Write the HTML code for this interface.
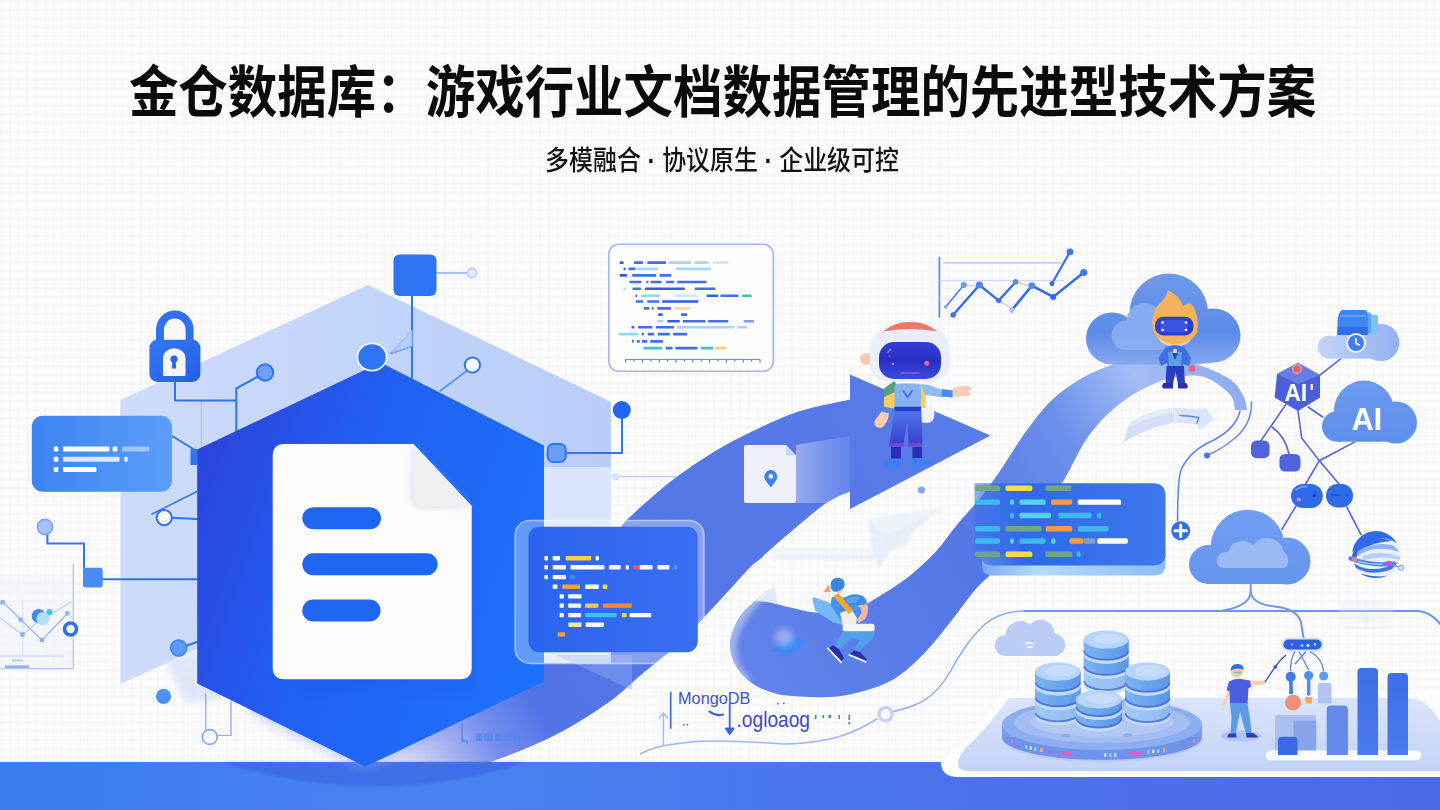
<!DOCTYPE html>
<html lang="zh-CN">
<head>
<meta charset="utf-8">
<title>金仓数据库：游戏行业文档数据管理的先进型技术方案</title>
<style>
html,body{margin:0;padding:0;}
body{width:1440px;height:810px;overflow:hidden;position:relative;background:#fcfcfc;font-family:"Liberation Sans","Noto Sans CJK SC",sans-serif;}
#bg{position:absolute;left:0;top:0;width:1440px;height:810px;
 background-image:linear-gradient(rgba(90,90,100,0.022) 3.2px,transparent 3.2px),linear-gradient(90deg,rgba(90,90,100,0.022) 3.2px,transparent 3.2px);
 background-size:8.7px 8.7px;}
#title{position:absolute;left:2.5px;top:57px;width:1440px;text-align:center;font-size:49.47px;font-weight:700;color:#0b0b0b;line-height:72px;white-space:nowrap;transform:scaleY(1.116);transform-origin:50% 50%;}
#sub{position:absolute;left:0;top:142.6px;width:1444px;text-align:center;font-size:23.95px;font-weight:500;color:#141414;line-height:36px;white-space:nowrap;transform:scaleY(1.13);transform-origin:50% 50%;}
#sub b{font-weight:900;}
#art{position:absolute;left:0;top:0;width:1440px;height:810px;}
#art text{font-family:"Liberation Sans","Noto Sans CJK SC",sans-serif;}
</style>
</head>
<body>
<div id="bg"></div>
<svg id="art" viewBox="0 0 1440 810" width="1440" height="810">
<defs>
<linearGradient id="gBand" x1="0" y1="0" x2="1" y2="0"><stop offset="0" stop-color="#3b7cf0"/><stop offset="0.3" stop-color="#4983f2"/><stop offset="0.6" stop-color="#4a74ec"/><stop offset="1" stop-color="#4c6ae8"/></linearGradient>
<linearGradient id="gHex" x1="197" y1="480" x2="544" y2="600" gradientUnits="userSpaceOnUse"><stop offset="0" stop-color="#2a46de"/><stop offset="0.25" stop-color="#2655e9"/><stop offset="0.45" stop-color="#2062f4"/><stop offset="1" stop-color="#1f70fa"/></linearGradient>
<linearGradient id="gLHex" x1="120" y1="0" x2="612" y2="0" gradientUnits="userSpaceOnUse"><stop offset="0" stop-color="#cfdcfb"/><stop offset="0.5" stop-color="#c3d5fb"/><stop offset="1" stop-color="#b9cdf9"/></linearGradient>
<linearGradient id="gLHexR" x1="0" y1="400" x2="0" y2="670" gradientUnits="userSpaceOnUse"><stop offset="0" stop-color="#bccff9"/><stop offset="0.25" stop-color="#c3d4fa"/><stop offset="0.3" stop-color="#d6e2fc"/><stop offset="1" stop-color="#dfe8fd"/></linearGradient>
<linearGradient id="gArrow1" x1="380" y1="790" x2="990" y2="430" gradientUnits="userSpaceOnUse"><stop offset="0" stop-color="#8a9aee" stop-opacity="0"/><stop offset="0.05" stop-color="#8496ec" stop-opacity="0.3"/><stop offset="0.11" stop-color="#7a8eec" stop-opacity="0.65"/><stop offset="0.17" stop-color="#6781ea" stop-opacity="0.9"/><stop offset="0.25" stop-color="#5374e6"/><stop offset="1" stop-color="#587ce8"/></linearGradient>
<linearGradient id="gArrow2" x1="740" y1="680" x2="1240" y2="380" gradientUnits="userSpaceOnUse"><stop offset="0" stop-color="#6283ea"/><stop offset="0.45" stop-color="#5277e6"/><stop offset="0.7" stop-color="#6d90ea"/><stop offset="0.85" stop-color="#a3bdf4"/><stop offset="1" stop-color="#8fabef"/></linearGradient>
<linearGradient id="gCardL" x1="0" y1="0" x2="1" y2="0"><stop offset="0" stop-color="#3d84f2"/><stop offset="1" stop-color="#5b9df8"/></linearGradient>
<linearGradient id="gLock" x1="0" y1="0" x2="1" y2="1"><stop offset="0" stop-color="#3079f3"/><stop offset="1" stop-color="#2a5ee8"/></linearGradient>
<linearGradient id="gCode" x1="0" y1="0" x2="1" y2="0"><stop offset="0" stop-color="#2a64ee"/><stop offset="1" stop-color="#3a6ff3"/></linearGradient>
<linearGradient id="gCode2" x1="0" y1="0" x2="1" y2="0"><stop offset="0" stop-color="#3a6fe8" stop-opacity="0.55"/><stop offset="0.25" stop-color="#2f69e8"/><stop offset="1" stop-color="#3d78ee"/></linearGradient>
<linearGradient id="gCloud" x1="0" y1="0" x2="0" y2="1"><stop offset="0" stop-color="#6d98ec"/><stop offset="0.7" stop-color="#5b8be8"/><stop offset="1" stop-color="#7ea3ee"/></linearGradient>
<linearGradient id="gCloud3" x1="0" y1="0" x2="0" y2="1"><stop offset="0" stop-color="#6b9bee"/><stop offset="1" stop-color="#5f90ea"/></linearGradient>
<linearGradient id="gCloudS" x1="0" y1="0" x2="1" y2="0"><stop offset="0" stop-color="#bdd0f8"/><stop offset="1" stop-color="#a3bdf3"/></linearGradient>
<linearGradient id="gPlat" x1="0" y1="698" x2="0" y2="772" gradientUnits="userSpaceOnUse"><stop offset="0" stop-color="#dbe4fb"/><stop offset="1" stop-color="#c3d2f7"/></linearGradient>
<linearGradient id="gCyl" x1="0" y1="0" x2="1" y2="0"><stop offset="0" stop-color="#7db5f1"/><stop offset="0.5" stop-color="#6aa5ed"/><stop offset="1" stop-color="#5a96e8"/></linearGradient>
<linearGradient id="gCylL" x1="0" y1="0" x2="1" y2="0"><stop offset="0" stop-color="#a3cbf6"/><stop offset="1" stop-color="#8db9f1"/></linearGradient>
<linearGradient id="gBar" x1="0" y1="0" x2="0" y2="1"><stop offset="0" stop-color="#3f6fe6"/><stop offset="1" stop-color="#4a7aec"/></linearGradient>
<linearGradient id="gLeg" x1="0" y1="0" x2="0" y2="1"><stop offset="0" stop-color="#4f74ea"/><stop offset="1" stop-color="#3a3fd0"/></linearGradient>
<linearGradient id="gVisor" x1="0" y1="0" x2="0" y2="1"><stop offset="0" stop-color="#3040d8"/><stop offset="0.5" stop-color="#2a2fc4"/><stop offset="1" stop-color="#3a4be0"/></linearGradient>
<linearGradient id="gBeam" x1="796" y1="0" x2="850" y2="0" gradientUnits="userSpaceOnUse"><stop offset="0" stop-color="#b3c1f5" stop-opacity="0.7"/><stop offset="1" stop-color="#8fa5ef" stop-opacity="0.25"/></linearGradient>
<linearGradient id="gSlab" x1="982" y1="0" x2="1165" y2="0" gradientUnits="userSpaceOnUse"><stop offset="0" stop-color="#7fa8f2"/><stop offset="0.3" stop-color="#b5dafb"/><stop offset="1" stop-color="#8fbcf7"/></linearGradient>
<linearGradient id="gCloudU" x1="0" y1="273" x2="0" y2="365" gradientUnits="userSpaceOnUse"><stop offset="0" stop-color="#6e99ec"/><stop offset="0.65" stop-color="#5c8ce8"/><stop offset="1" stop-color="#86a9f0"/></linearGradient>
<linearGradient id="gCloud3U" x1="0" y1="510" x2="0" y2="584" gradientUnits="userSpaceOnUse"><stop offset="0" stop-color="#6f9ef2"/><stop offset="1" stop-color="#6795ee"/></linearGradient>
<linearGradient id="gCloudAI" x1="0" y1="380" x2="0" y2="442" gradientUnits="userSpaceOnUse"><stop offset="0" stop-color="#6c9af0"/><stop offset="1" stop-color="#5e8fea"/></linearGradient>
<linearGradient id="gCloudSU" x1="1317" y1="0" x2="1400" y2="0" gradientUnits="userSpaceOnUse"><stop offset="0" stop-color="#c3d4f9"/><stop offset="0.6" stop-color="#a5bff4"/><stop offset="1" stop-color="#93b2f2"/></linearGradient>
<filter id="b1" x="-20%" y="-20%" width="140%" height="140%"><feGaussianBlur stdDeviation="1"/></filter>
<filter id="b3" x="-20%" y="-20%" width="140%" height="140%"><feGaussianBlur stdDeviation="3"/></filter>
<filter id="b6" x="-30%" y="-30%" width="160%" height="160%"><feGaussianBlur stdDeviation="6"/></filter>
<filter id="b05" x="-10%" y="-10%" width="120%" height="120%"><feGaussianBlur stdDeviation="0.5"/></filter>
</defs>
<!-- arrow 1 -->
<g id="arrow1">
<path d="M470.0 650.0 C485.0 637.5 536.5 593.8 560.0 575.0 C583.5 556.2 599.9 546.2 611.0 537.0 C622.1 527.8 620.4 526.2 626.7 520.0 C633.0 513.8 640.5 507.0 648.6 500.0 C656.7 493.0 664.9 485.6 675.5 477.8 C686.1 470.0 699.8 460.5 712.0 453.0 C724.2 445.5 734.8 439.8 749.0 433.0 C763.2 426.2 780.2 417.6 797.0 412.0 C813.8 406.4 841.2 401.6 850.0 399.5 L850 374.5 L990.5 435.5 L850 508.9 L850 491.6 C847.7 492.6 840.8 495.0 836.0 497.5 C831.2 500.0 827.3 502.0 821.0 506.7 C814.7 511.4 805.5 519.5 798.0 525.8 C790.5 532.1 782.3 539.0 776.0 544.5 C769.7 550.0 764.3 555.2 760.0 559.0 C755.7 562.8 755.5 561.9 750.0 567.5 C744.5 573.1 735.0 583.8 727.0 592.5 C719.0 601.2 709.7 611.2 702.0 619.5 C694.3 627.8 689.2 634.4 681.0 642.0 C672.8 649.6 660.8 658.5 653.0 665.0 C645.2 671.5 639.9 675.9 634.0 681.0 C628.1 686.1 624.1 690.4 617.5 695.6 C610.9 700.8 603.6 706.1 594.5 712.0 C585.4 717.9 573.5 725.3 563.0 731.0 C552.5 736.7 542.0 741.4 531.5 746.0 C521.0 750.6 510.2 754.8 500.0 758.5 C489.8 762.2 481.7 764.9 470.0 768.0 C458.3 771.1 442.5 774.7 430.0 777.0 C417.5 779.3 400.8 781.2 395.0 782.0 L380 755 L420 690 Z" fill="url(#gArrow1)"/>
</g>
<!-- bottom band -->
<g id="band">
<rect x="0" y="762" width="1440" height="48" fill="url(#gBand)"/>
<path d="M222 762 Q 300 789 400 786 Q 470 781 525 762 Z" fill="#3256dc" opacity="0.42" filter="url(#b1)"/>
</g>
<!-- light back hexagon -->
<g id="lighthex">
<path d="M120.3 400 L368 285 L611 402 L611 663 L544 663 L544 640 L197 649 L120.3 684 Z" fill="url(#gLHex)"/>
<rect x="544" y="467" width="67" height="196" fill="#dbe5fc"/>
<path d="M166 662 L197 649 L222 700 L185 703 Z" fill="#d5dff8" opacity="0.7" filter="url(#b3)"/>
<line x1="201.5" y1="401" x2="201.5" y2="449" stroke="#a9c3f7" stroke-width="1.2"/>
</g>
<!-- left connectors, lock, card, faint chart -->
<g id="leftstuff" fill="none" stroke="#2f74f0" stroke-width="2" stroke-linecap="round" stroke-linejoin="round">
<!-- lock lines -->
<path d="M175 381 L175 400.5 L236.3 400.5"/>
<path d="M236.3 432 L236.3 388.5 L258 376.5"/>
<circle cx="265" cy="372.5" r="8.2" fill="#6f9ff6"/>
<!-- top square + line -->
<path d="M412 296 L412 378"/>
<path d="M436 273 L468 273" stroke="#8fb0f3" stroke-width="1.6"/>
<circle cx="472" cy="273" r="4.6" fill="#e4ebfb" stroke="#b9cbf5" stroke-width="1.6"/>
<rect x="393.5" y="254.5" width="43" height="41.5" rx="6" fill="#2f74f3" stroke="none"/>
<!-- apex blob -->
<path d="M391 353 L412 346" />
<path d="M391 353 L412 330 L412 346 Z" fill="#b5cbf8" stroke="#8fb0f5" stroke-width="1"/>
<!-- white circle right -->
<path d="M466.5 371 L440 391" stroke="#5a90f3" stroke-width="1.6"/>
<circle cx="472.4" cy="365" r="7.6" fill="#fbfcff"/>
<!-- card connector -->
<path d="M172 436 L194 449.5"/>
<rect x="190.5" y="449" width="7" height="16" fill="#2f74f0" stroke="none"/>
<!-- mid-left circles -->
<path d="M152 514 L197 491.5" stroke-width="1.4"/>
<path d="M172 517.7 L197 519"/>
<circle cx="164.2" cy="517.7" r="7.6" fill="#f4f7ff"/>
<path d="M47.4 535 L47.4 543.6 L84 543.6 L84 568"/>
<circle cx="45" cy="527" r="7.6" fill="#a7c1f6" stroke="#7ba4f2" stroke-width="1.6"/>
<path d="M102 579.2 L197 579.2"/>
<rect x="83" y="567.8" width="19.7" height="19.7" rx="3" fill="#4a8af3" stroke="none"/>
<path d="M187 645.5 L197 642"/>
<circle cx="178.7" cy="648" r="8" fill="#5b9bf6" stroke="#3f84f2" stroke-width="1.6"/>
<circle cx="163.5" cy="696.4" r="7.6" fill="#4b92f4" stroke="none"/>
<path d="M205.7 694 L205.7 729" stroke="#8fb0f2" stroke-width="1.4"/>
<path d="M231 701 L231 735.4 L218 735.4" stroke="#8fb0f2" stroke-width="1.4"/>
<circle cx="209.8" cy="737" r="7.4" fill="#fbfcff" stroke="#7fa6f3" stroke-width="1.6"/>
<!-- right connectors -->
<path d="M566 453 L622 453 L622 418"/>
<circle cx="621.8" cy="410" r="9" fill="#1f66f2" stroke="none"/>
<rect x="547.7" y="444" width="18" height="18" rx="5.5" fill="#6a9ff6"/>
<path d="M616 476.7 L676 476.7" stroke="#b9cdf7" stroke-width="1.3"/>
<circle cx="615.5" cy="476.7" r="3" fill="#dbe5fb" stroke="#c5d5f8" stroke-width="1"/>
</g>
<!-- lock -->
<g id="lock">
<path d="M160 343 L160 330 A14.8 15.6 0 0 1 189.6 330 L189.6 343" fill="none" stroke="#2f72f1" stroke-width="8"/>
<rect x="149.4" y="339.7" width="51" height="42.2" rx="8" fill="url(#gLock)"/>
<path d="M163 374.5 L163 358 A11.2 9.6 0 0 1 185.5 358 L185.5 374.5 Q185.5 376 184 376 L164.5 376 Q163 376 163 374.5 Z" fill="#f4f7fd"/>
<circle cx="174" cy="359" r="3.6" fill="#2a62ea"/>
<path d="M172.4 360 L175.6 360 L176.2 368.5 L171.8 368.5 Z" fill="#2a62ea"/>
</g>
<!-- left card -->
<g id="leftcard">
<rect x="31.8" y="415.8" width="140.2" height="76" rx="11" fill="url(#gCardL)"/>
<g fill="#ffffff">
<rect x="53.8" y="446.5" width="4.6" height="5" rx="1"/><rect x="63" y="446.5" width="46.5" height="5" rx="1"/><rect x="112.7" y="446.5" width="4.6" height="5" rx="1"/><rect x="122" y="446.5" width="27.4" height="5" rx="1" opacity="0.45"/>
<rect x="53.8" y="456.7" width="4.6" height="5" rx="1"/><rect x="63" y="456.7" width="56.5" height="5" rx="1" opacity="0.8"/><rect x="124.4" y="456.7" width="3.2" height="5" rx="1" opacity="0.9"/>
<rect x="53.8" y="467" width="4.6" height="5" rx="1"/><rect x="63" y="467" width="33.4" height="5" rx="1"/>
</g>
</g>
<!-- faint chart bottom-left -->
<g id="leftchart" fill="none" stroke-linecap="round" stroke-linejoin="round">
<rect x="0" y="575" width="73" height="94" fill="#eef3fc" opacity="0.55" stroke="none"/>
<path d="M73.3 564 L73.3 668.7 L0 668.7" stroke="#b3c9f5" stroke-width="1.3"/>
<path d="M0 656 L64 656" stroke="#c3d4f7" stroke-width="1.2"/>
<path d="M22.8 600 L22.8 656" stroke="#d3dff8" stroke-width="1"/>
<rect x="5" y="665.4" width="24" height="2.6" fill="#8fb2f2" stroke="none"/>
<rect x="12" y="659.5" width="11" height="2" fill="#b3c9f5" stroke="none"/>
<path d="M0 604 L2.8 602 L20.7 619.6 L42 640 L67.4 613.4" stroke="#9db8f0" stroke-width="1.4"/>
<path d="M0 618 L22.5 634.5 L38 622 L71 602" stroke="#bccff6" stroke-width="1.3"/>
<g fill="#8fb0ee" stroke="none"><rect x="0.5" y="600" width="4.4" height="4.4" rx="1"/><rect x="18.5" y="617.4" width="4.4" height="4.4" rx="1"/><rect x="20.3" y="632.3" width="4.4" height="4.4" rx="1"/><rect x="39.8" y="637.8" width="4.4" height="4.4" rx="1"/><rect x="65.2" y="611.2" width="4.4" height="4.4" rx="1"/></g>
<circle cx="38.7" cy="616" r="7" fill="#3f8af2" stroke="none"/>
<circle cx="49.4" cy="612" r="3" fill="#3fc2f2" stroke="none"/>
<circle cx="43" cy="618.6" r="6.6" fill="#b3ddf9" stroke="none"/>
<circle cx="70.5" cy="629" r="6" fill="#fbfcff" stroke="#2f70ea" stroke-width="3.6"/>
</g>
<!-- main hexagon + document -->
<g id="hexagon">
<path d="M250 712 L365.5 770 L480 715 L470 690 L260 690 Z" fill="#8f9ff0" opacity="0.5" filter="url(#b6)"/>
<path d="M197.2 449.5 L380.5 362.5 L544 445.5 L544 681.5 L365.5 766.7 L197.2 683.5 Z" fill="url(#gHex)"/>
<ellipse cx="372" cy="357" rx="14.6" ry="13.6" fill="#2f74f3" stroke="#f4f7ff" stroke-width="1.6"/>
<!-- doc -->
<path d="M470 512 L474 690 L300 690 Z" fill="#1a3fc0" opacity="0.10" filter="url(#b6)"/>
<path d="M284.7 444 L413.3 444 L471.7 506 L471.7 667.3 Q471.7 679.3 459.7 679.3 L284.7 679.3 Q272.7 679.3 272.7 667.3 L272.7 456 Q272.7 444 284.7 444 Z" fill="#fcfcfd"/>
<path d="M413.3 444 L471.7 506 L425 508 Q411 508 411.5 494 Z" fill="#9aa3b8" opacity="0.35" filter="url(#b3)"/>
<path d="M413.3 444 L471.7 506 L423.3 506 Q413.3 506 413.3 496 Z" fill="#eef0f3"/>
<rect x="302.3" y="507.3" width="78.7" height="22" rx="11" fill="#1f66f2"/>
<rect x="302.3" y="553.3" width="135.4" height="22" rx="11" fill="#1f66f2"/>
<rect x="302.3" y="599.5" width="78.2" height="22" rx="11" fill="#1f66f2"/>
</g>
<!-- tiny marks under hexagon right -->
<g id="tinymarks" fill="#4f8af3">
<path d="M462 723 L462 741 L467 741 L467 744" fill="none" stroke="#4f8af3" stroke-width="1.4"/>
<rect x="476" y="733.5" width="6" height="7.5" opacity="0.8"/><rect x="484" y="733.5" width="9" height="7.5" opacity="0.65"/><rect x="495" y="733.5" width="7" height="7.5" opacity="0.75"/><rect x="504" y="733.5" width="8" height="7.5" opacity="0.6"/><rect x="513.5" y="733.5" width="6" height="7.5" opacity="0.7"/>
</g>
<!-- top code panel -->
<g id="toppanel">
<rect x="608.8" y="244.2" width="164.5" height="127" rx="10" fill="#fdfdfe" stroke="#a3b6f1" stroke-width="1.6"/>
<g filter="url(#b05)">
<rect x="619.6" y="261.3" width="4.0" height="2.6" rx="0.6" fill="#2f5fe0"/><rect x="633.9" y="261.3" width="9.1" height="2.6" rx="0.6" fill="#3f6fe8"/><rect x="647.3" y="261.3" width="18.8" height="2.6" rx="0.6" fill="#3f6fe8"/><rect x="668.6" y="261.3" width="22.5" height="2.6" rx="0.6" fill="#a9d4f5"/><rect x="694.3" y="261.3" width="14.2" height="2.6" rx="0.6" fill="#a9d4f5"/><rect x="712.9" y="261.3" width="15.4" height="2.6" rx="0.6" fill="#cfe6f8"/>
<rect x="623.6" y="267.6" width="2.0" height="2.6" rx="0.6" fill="#2f5fe0"/><rect x="628.5" y="267.6" width="6.9" height="2.6" rx="0.6" fill="#3f6fe8"/><rect x="636.4" y="267.6" width="21.7" height="2.6" rx="0.6" fill="#a9d4f5"/><rect x="675.9" y="267.6" width="35.0" height="2.6" rx="0.6" fill="#a9d4f5"/>
<rect x="619.6" y="274.1" width="7.5" height="2.6" rx="0.6" fill="#2f5fe0"/><rect x="632.1" y="274.1" width="24.1" height="2.6" rx="0.6" fill="#3f6fe8"/><rect x="659.5" y="274.1" width="11.9" height="2.6" rx="0.6" fill="#3f6fe8"/>
<rect x="629.5" y="280.7" width="11.9" height="2.6" rx="0.6" fill="#3f6fe8"/><rect x="646.3" y="280.7" width="2.0" height="2.6" rx="0.6" fill="#3f6fe8"/><rect x="650.8" y="280.7" width="10.7" height="2.6" rx="0.6" fill="#3f6fe8"/><rect x="666.1" y="280.7" width="7.9" height="2.6" rx="0.6" fill="#3f6fe8"/><rect x="677.3" y="280.7" width="29.2" height="2.6" rx="0.6" fill="#3f6fe8"/>
<rect x="623.6" y="287.4" width="2.0" height="2.6" rx="0.6" fill="#a9d4f5"/><rect x="632.5" y="287.4" width="8.5" height="2.6" rx="0.6" fill="#3f6fe8"/><rect x="644.9" y="287.4" width="39.9" height="2.6" rx="0.6" fill="#2f5fe0"/><rect x="694.7" y="287.4" width="20.7" height="2.6" rx="0.6" fill="#3f6fe8"/>
<rect x="635.4" y="294.5" width="1.6" height="2.6" rx="0.6" fill="#3f6fe8"/><rect x="641.0" y="294.5" width="18.6" height="2.6" rx="0.6" fill="#8fd8e8"/><rect x="674.9" y="294.5" width="22.7" height="2.6" rx="0.6" fill="#cfe6f8"/><rect x="706.6" y="294.5" width="11.5" height="2.6" rx="0.6" fill="#2f5fe0"/><rect x="720.4" y="294.5" width="18.2" height="2.6" rx="0.6" fill="#3f6fe8"/><rect x="742.1" y="294.5" width="9.5" height="2.6" rx="0.6" fill="#3fc0a0"/>
<rect x="635.8" y="300.2" width="7.5" height="2.6" rx="0.6" fill="#3f6fe8"/><rect x="647.3" y="300.2" width="11.9" height="2.6" rx="0.6" fill="#3f6fe8"/><rect x="662.1" y="300.2" width="36.2" height="2.6" rx="0.6" fill="#2f5fe0"/>
<rect x="643.7" y="307.1" width="5.5" height="2.6" rx="0.6" fill="#3f6fe8"/><rect x="651.6" y="307.1" width="2.0" height="2.6" rx="0.6" fill="#3f6fe8"/><rect x="657.2" y="307.1" width="13.8" height="2.6" rx="0.6" fill="#3f6fe8"/><rect x="674.0" y="307.1" width="16.8" height="2.6" rx="0.6" fill="#f0dca0"/>
<rect x="658.2" y="313.3" width="4.5" height="2.6" rx="0.6" fill="#2f5fe0"/><rect x="680.9" y="313.3" width="6.3" height="2.6" rx="0.6" fill="#3f6fe8"/>
<rect x="657.2" y="320.0" width="6.3" height="2.6" rx="0.6" fill="#a9d4f5"/><rect x="667.4" y="320.0" width="12.4" height="2.6" rx="0.6" fill="#2f5fe0"/><rect x="682.8" y="320.0" width="22.7" height="2.6" rx="0.6" fill="#3f6fe8"/><rect x="708.1" y="320.0" width="20.2" height="2.6" rx="0.6" fill="#3f6fe8"/><rect x="743.7" y="320.0" width="10.3" height="2.6" rx="0.6" fill="#7f9fee"/>
<rect x="631.5" y="325.9" width="3.0" height="2.6" rx="0.6" fill="#3f6fe8"/><rect x="638.0" y="325.9" width="14.4" height="2.6" rx="0.6" fill="#3f6fe8"/><rect x="655.8" y="325.9" width="18.2" height="2.6" rx="0.6" fill="#3f6fe8"/><rect x="676.9" y="325.9" width="57.3" height="2.6" rx="0.6" fill="#a9d4f5"/><rect x="737.2" y="325.9" width="9.9" height="2.6" rx="0.6" fill="#a9d4f5"/>
<rect x="618.6" y="332.8" width="19.8" height="2.6" rx="0.6" fill="#8fdcf0"/><rect x="641.8" y="332.8" width="2.0" height="2.6" rx="0.6" fill="#2f5fe0"/><rect x="647.7" y="332.8" width="6.5" height="2.6" rx="0.6" fill="#3f6fe8"/><rect x="657.6" y="332.8" width="12.4" height="2.6" rx="0.6" fill="#3f6fe8"/><rect x="673.0" y="332.8" width="14.2" height="2.6" rx="0.6" fill="#3f6fe8"/>
<rect x="631.9" y="340.1" width="2.0" height="2.6" rx="0.6" fill="#3f6fe8"/><rect x="636.8" y="340.1" width="3.0" height="2.6" rx="0.6" fill="#3f6fe8"/><rect x="641.8" y="340.1" width="5.5" height="2.6" rx="0.6" fill="#3f6fe8"/><rect x="650.3" y="340.1" width="12.8" height="2.6" rx="0.6" fill="#3f6fe8"/>
<rect x="643.3" y="346.8" width="18.8" height="2.6" rx="0.6" fill="#3fc0c8"/><rect x="665.7" y="346.8" width="6.9" height="2.6" rx="0.6" fill="#3f6fe8"/><rect x="675.3" y="346.8" width="22.3" height="2.6" rx="0.6" fill="#3f6fe8"/><rect x="701.0" y="346.8" width="12.4" height="2.6" rx="0.6" fill="#3fc0c8"/><rect x="714.9" y="346.8" width="11.5" height="2.6" rx="0.6" fill="#f5d070"/>
<path d="M625.6 359.4 L760 359.4" stroke="#5f86ea" stroke-width="1" fill="none"/>
<path d="M625.6 359.4 L625.6 362.6 M634.0 359.4 L634.0 361.4 M642.4 359.4 L642.4 362.6 M650.8 359.4 L650.8 361.4 M659.2 359.4 L659.2 362.6 M667.6 359.4 L667.6 361.4 M676.0 359.4 L676.0 362.6 M684.4 359.4 L684.4 361.4 M692.8 359.4 L692.8 362.6 M701.2 359.4 L701.2 361.4 M709.6 359.4 L709.6 362.6 M718.0 359.4 L718.0 361.4 M726.4 359.4 L726.4 362.6 M734.8 359.4 L734.8 361.4 M743.2 359.4 L743.2 362.6 M751.6 359.4 L751.6 361.4 M760.0 359.4 L760.0 362.6 " stroke="#4f78e8" stroke-width="1.2" fill="none"/>
</g>
</g>
<!-- doc icon on arrow + beam -->
<g id="docarrow">
<path d="M796 445 L850 436 L850 491.6 L836 497.5 L826 503 L796 503 Z" fill="url(#gBeam)"/>
<path d="M746 445 L786 445 L796 455.5 L796 501 Q796 503 794 503 L746 503 Q744 503 744 501 L744 447 Q744 445 746 445 Z" fill="#eef1fc"/>
<path d="M786 445 L796 455.5 L788 455.5 Q786 455.5 786 453.5 Z" fill="#cfd8f3"/>
<path d="M770.8 487.5 C 766 481.5, 764.3 479.5, 764.3 476.6 A6.5 6.5 0 0 1 777.3 476.6 C 777.3 479.5, 775.6 481.5, 770.8 487.5 Z" fill="#3f7ff1"/>
<circle cx="770.8" cy="476.4" r="2.3" fill="#eef1fc"/>
<circle cx="921.5" cy="490" r="3.6" fill="#8aa6ef"/>
</g>
<!-- arrow 2 -->
<clipPath id="cpA2"><path d="M757.0 599.0 C760.1 599.8 769.5 602.2 775.5 603.7 C781.5 605.2 786.2 606.5 792.8 608.0 C799.4 609.5 806.3 611.9 815.0 612.5 C823.7 613.1 836.5 612.9 845.0 611.5 C853.5 610.1 859.8 606.8 866.0 604.0 C872.2 601.2 876.8 597.8 882.0 594.6 C887.2 591.4 891.9 588.6 897.0 585.0 C902.1 581.4 906.3 578.7 912.8 573.2 C919.2 567.7 928.1 560.2 935.7 551.8 C943.3 543.4 951.2 531.7 958.6 522.8 C966.0 513.9 973.1 506.9 980.0 498.3 C986.9 489.7 992.2 482.4 1000.0 471.0 C1007.8 459.6 1017.8 442.4 1027.0 430.0 C1036.2 417.6 1044.3 406.4 1055.5 396.7 C1066.7 387.0 1081.1 377.9 1094.0 372.0 C1106.9 366.1 1117.2 362.5 1133.0 361.0 C1148.8 359.5 1173.2 360.2 1189.0 363.0 C1204.8 365.8 1219.0 372.7 1228.0 378.0 C1237.0 383.3 1239.8 389.7 1243.0 395.0 C1246.2 400.3 1246.3 407.5 1247.0 410.0 L1235 410 C1234.3 407.7 1234.7 400.8 1231.0 396.0 C1227.3 391.2 1219.2 384.4 1213.0 381.0 C1206.8 377.6 1202.2 375.5 1193.5 375.5 C1184.8 375.5 1172.9 376.6 1161.0 381.0 C1149.1 385.4 1134.0 392.9 1122.0 402.0 C1110.0 411.1 1098.7 422.5 1089.0 435.5 C1079.3 448.5 1072.2 466.8 1064.0 480.0 C1055.8 493.2 1048.2 504.0 1040.0 515.0 C1031.8 526.0 1022.9 536.4 1015.0 546.0 C1007.1 555.6 999.2 565.2 992.5 572.5 C985.8 579.8 982.1 581.7 975.0 590.0 C967.9 598.3 958.3 612.1 950.0 622.5 C941.7 632.9 933.3 643.8 925.0 652.5 C916.7 661.2 908.3 669.2 900.0 675.0 C891.7 680.8 885.4 683.9 875.0 687.5 C864.6 691.1 850.0 695.0 837.5 696.5 C825.0 698.0 810.3 697.0 800.0 696.5 C789.7 696.0 783.3 695.7 775.5 693.6 C767.7 691.5 759.3 688.2 753.0 684.0 C746.7 679.8 741.2 674.1 737.5 668.6 C733.8 663.1 731.6 656.8 730.6 651.3 C729.6 645.8 729.7 641.8 731.4 635.7 C733.1 629.7 736.7 621.1 741.0 615.0 C745.3 608.9 754.3 601.7 757.0 599.0 Z"/></clipPath>
<g id="arrow2">
<path d="M757.0 599.0 C760.1 599.8 769.5 602.2 775.5 603.7 C781.5 605.2 786.2 606.5 792.8 608.0 C799.4 609.5 806.3 611.9 815.0 612.5 C823.7 613.1 836.5 612.9 845.0 611.5 C853.5 610.1 859.8 606.8 866.0 604.0 C872.2 601.2 876.8 597.8 882.0 594.6 C887.2 591.4 891.9 588.6 897.0 585.0 C902.1 581.4 906.3 578.7 912.8 573.2 C919.2 567.7 928.1 560.2 935.7 551.8 C943.3 543.4 951.2 531.7 958.6 522.8 C966.0 513.9 973.1 506.9 980.0 498.3 C986.9 489.7 992.2 482.4 1000.0 471.0 C1007.8 459.6 1017.8 442.4 1027.0 430.0 C1036.2 417.6 1044.3 406.4 1055.5 396.7 C1066.7 387.0 1081.1 377.9 1094.0 372.0 C1106.9 366.1 1117.2 362.5 1133.0 361.0 C1148.8 359.5 1173.2 360.2 1189.0 363.0 C1204.8 365.8 1219.0 372.7 1228.0 378.0 C1237.0 383.3 1239.8 389.7 1243.0 395.0 C1246.2 400.3 1246.3 407.5 1247.0 410.0 L1235 410 C1234.3 407.7 1234.7 400.8 1231.0 396.0 C1227.3 391.2 1219.2 384.4 1213.0 381.0 C1206.8 377.6 1202.2 375.5 1193.5 375.5 C1184.8 375.5 1172.9 376.6 1161.0 381.0 C1149.1 385.4 1134.0 392.9 1122.0 402.0 C1110.0 411.1 1098.7 422.5 1089.0 435.5 C1079.3 448.5 1072.2 466.8 1064.0 480.0 C1055.8 493.2 1048.2 504.0 1040.0 515.0 C1031.8 526.0 1022.9 536.4 1015.0 546.0 C1007.1 555.6 999.2 565.2 992.5 572.5 C985.8 579.8 982.1 581.7 975.0 590.0 C967.9 598.3 958.3 612.1 950.0 622.5 C941.7 632.9 933.3 643.8 925.0 652.5 C916.7 661.2 908.3 669.2 900.0 675.0 C891.7 680.8 885.4 683.9 875.0 687.5 C864.6 691.1 850.0 695.0 837.5 696.5 C825.0 698.0 810.3 697.0 800.0 696.5 C789.7 696.0 783.3 695.7 775.5 693.6 C767.7 691.5 759.3 688.2 753.0 684.0 C746.7 679.8 741.2 674.1 737.5 668.6 C733.8 663.1 731.6 656.8 730.6 651.3 C729.6 645.8 729.7 641.8 731.4 635.7 C733.1 629.7 736.7 621.1 741.0 615.0 C745.3 608.9 754.3 601.7 757.0 599.0 Z" fill="url(#gArrow2)"/>
<g clip-path="url(#cpA2)"><path d="M760 596 Q744 610 734 632 Q729 650 734 664 Q738 674 748 682" fill="none" stroke="#c9d5f8" stroke-width="9" opacity="0.7" filter="url(#b3)"/></g>
</g>
<!-- ghost arrows + sitting person on arrow 2 -->
<g id="ghost" opacity="0.75" filter="url(#b1)">
<path d="M772 548.6 L876 548.6 L876 561 L772 561 Z" fill="#e1edf9" opacity="0.6"/>
<path d="M868.6 519 L944.7 507 L913.6 531 L906.6 545 L889 552 L879 569 L872 546 Z" fill="#d9e8f7" opacity="0.8"/>
<path d="M868.6 519 L944.7 507 L906 526 L884 536 Z" fill="#e7f1fa" opacity="0.95"/>
</g>
<g id="arrow2deco">
<path d="M770.3 650.4 L793.7 634.8 L805.8 641.8 L789.4 656.5 Z" fill="#3f8af2" opacity="0.95"/>
<path d="M754 601.5 Q763 592 775 586 Q775.5 596 778.5 604.5 Q766 600.5 754 601.5 Z" fill="#e1e8fb" opacity="0.95"/>
<circle cx="784" cy="637" r="9" fill="#ffffff" opacity="0.35" filter="url(#b3)"/>
</g>
<g id="sitter">
<!-- ponytail -->
<path d="M823.4 592 L828.5 584.5 L831 592.5 Z" fill="#f5a07a"/>
<!-- white jacket back -->
<path d="M819.6 596 Q826 590.5 833 592.5 L838 600 L836 607 L822 603 Z" fill="#f3f1ee"/>
<!-- body fill -->
<path d="M832 597 L858 598 L860 622 L842 626 L830 606 Z" fill="#4a92ea"/>
<!-- laptop back -->
<path d="M812.2 598.5 Q813 597 815 597.6 L829 602.5 L844 625.5 L833 622.5 L815.2 610.4 Z" fill="#74b8f6"/>
<!-- blue jacket -->
<path d="M844 598 Q852 592.5 860 595 Q866.5 597 867 603 L862 606 L852 604 L846 614 L838 610 Z" fill="#3f8ae6"/>
<path d="M846 599 Q853 595 860 597 L856 603 L848 603 Z" fill="#5aa2ee"/>
<!-- cream lower -->
<path d="M840 613 L851 609 L857 618 L856 625 L843 626 Z" fill="#f1efe9"/>
<!-- orange strap -->
<path d="M833.5 596 L838.5 593 L853 610.5 L848.5 614 Z" fill="#f5a830"/>
<!-- face + hair -->
<path d="M834.5 589 Q838 596 842 591.5 L841 587 Z" fill="#f8c2b0"/>
<path d="M831 588.5 Q828.8 579.5 836.5 577.8 Q844 577.3 844.8 584 Q844.3 589.5 839.5 590.5 Q836.5 592.5 833.5 591.5 Z" fill="#3a86e6"/>
<!-- forearm skin -->
<path d="M860 605 L867.5 604.5 Q869.5 612 865 619 L859 623 L856.5 620.5 L861.5 613 Z" fill="#f8b6a2"/>
<!-- laptop base -->
<rect x="842.6" y="623.8" width="32" height="7.6" rx="2.6" fill="#f7f8fb"/>
<!-- legs -->
<path d="M843 631.5 L875 631.5 L873 638.6 L859.7 650.8 L853.8 649 L859.7 640.5 L852.3 637.5 L840.4 649.4 L834.5 646 Z" fill="#4f9fea"/>
<!-- shoes -->
<path d="M827.8 648.2 L841.2 662.3" stroke="#f3f4fa" stroke-width="1.8" stroke-linecap="round"/>
<path d="M833 645.2 L838.9 649 L844.1 657.9 L841.6 661 L829 648 Z" fill="#2a2fa8"/>
<path d="M849.3 654.9 L865.6 661.8" stroke="#f3f4fa" stroke-width="1.8" stroke-linecap="round"/>
<path d="M853.8 650.4 L859.7 651.9 L867.1 659.3 L865.8 660.6 L850 654 Z" fill="#2a2fa8"/>
</g>
<!-- code panel 2 -->
<g id="codepanel2">
<path d="M982 555 L1165.5 550 L1165.5 564 Q1165.5 575.5 1154 575.5 L993 575.5 Q982 575.5 982 565 Z" fill="url(#gSlab)"/>
<path d="M974.5 483.3 L1153 483.3 Q1165.5 483.3 1165.5 496 L1165.5 553 Q1165.5 565.5 1153 565.5 L993 565.5 Q982 565.5 982 557 L974.5 557 Z" fill="url(#gCode2)"/>
<rect x="975.0" y="485.5" width="25.0" height="5.4" rx="1.6" fill="#72a48c"/><rect x="1005.6" y="485.5" width="26.7" height="5.4" rx="1.6" fill="#f8dc40"/><rect x="1045.6" y="485.5" width="25.6" height="5.4" rx="1.6" fill="#72a48c"/>
<rect x="975.0" y="499.4" width="25.0" height="5.4" rx="1.6" fill="#3fb8f0"/><rect x="1010.0" y="499.4" width="3.9" height="5.4" rx="1.6" fill="#5ad0e8"/><rect x="1019.4" y="499.4" width="26.1" height="5.4" rx="1.6" fill="#5ad0e8"/><rect x="1051.1" y="499.4" width="21.1" height="5.4" rx="1.6" fill="#f59a4a"/><rect x="1077.8" y="499.4" width="43.3" height="5.4" rx="1.6" fill="#ffffff"/>
<rect x="1010.0" y="512.8" width="3.9" height="5.4" rx="1.6" fill="#3fb8f0"/><rect x="1019.4" y="512.8" width="31.7" height="5.4" rx="1.6" fill="#5ad0e8"/><rect x="1058.3" y="512.8" width="33.3" height="5.4" rx="1.6" fill="#3fb8f0"/><rect x="1097.2" y="512.8" width="3.9" height="5.4" rx="1.6" fill="#3fb8f0"/>
<rect x="975.0" y="526.1" width="25.0" height="5.4" rx="1.6" fill="#3fb8f0"/><rect x="1005.6" y="526.1" width="36.1" height="5.4" rx="1.6" fill="#72a48c"/><rect x="1045.6" y="526.1" width="26.7" height="5.4" rx="1.6" fill="#f59a4a"/><rect x="1077.8" y="526.1" width="30.6" height="5.4" rx="1.6" fill="#3fb8f0"/>
<rect x="975.0" y="538.3" width="25.0" height="5.4" rx="1.6" fill="#3fb8f0"/><rect x="1010.0" y="538.3" width="3.9" height="5.4" rx="1.6" fill="#5ad0e8"/><rect x="1019.4" y="538.3" width="26.1" height="5.4" rx="1.6" fill="#3fb8f0"/><rect x="1051.1" y="538.3" width="4.4" height="5.4" rx="1.6" fill="#5ad0e8"/><rect x="1069.4" y="538.3" width="13.9" height="5.4" rx="1.6" fill="#f59a4a"/><rect x="1083.3" y="538.3" width="12.2" height="5.4" rx="1.6" fill="#7f9fd0"/><rect x="1097.2" y="538.3" width="30.6" height="5.4" rx="1.6" fill="#ffffff"/>
<rect x="975.0" y="551.6" width="25.0" height="5.4" rx="1.6" fill="#72a48c"/><rect x="1005.6" y="551.6" width="26.7" height="5.4" rx="1.6" fill="#f8dc40"/><rect x="1045.6" y="551.6" width="26.7" height="5.4" rx="1.6" fill="#72a48c"/><rect x="1076.7" y="551.6" width="3.9" height="5.4" rx="1.6" fill="#3fb8f0"/>
</g>
<!-- code card -->
<g id="codecard">
<path d="M556 655 L632 655 L632 690 Z" fill="#8fa8f0" opacity="0.45"/>
<rect x="515" y="520.4" width="189" height="143" rx="15" fill="#ffffff" fill-opacity="0.30" stroke="#ffffff" stroke-opacity="0.5" stroke-width="1.5"/>
<rect x="528.4" y="526.7" width="169.4" height="125.5" rx="11" fill="url(#gCode)"/>
<rect x="544.4" y="556.0" width="3.6" height="4.4" rx="0.8" fill="#ffffff"/><rect x="552.7" y="556.0" width="7.3" height="4.4" rx="0.8" fill="#ffffff"/><rect x="565.6" y="556.0" width="25.6" height="4.4" rx="0.8" fill="#f5d24a"/><rect x="595.6" y="556.0" width="3.3" height="4.4" rx="0.8" fill="#ffffff"/>
<rect x="544.4" y="565.1" width="3.6" height="4.4" rx="0.8" fill="#ffffff"/><rect x="552.7" y="565.1" width="13.3" height="4.4" rx="0.8" fill="#ffffff"/><rect x="570.4" y="565.1" width="34.0" height="4.4" rx="0.8" fill="#ffffff"/><rect x="608.9" y="565.1" width="11.8" height="4.4" rx="0.8" fill="#ffffff"/><rect x="625.6" y="565.1" width="3.3" height="4.4" rx="0.8" fill="#ffffff"/><rect x="633.3" y="565.1" width="6.2" height="4.4" rx="0.8" fill="#f0506a"/><rect x="639.6" y="565.1" width="12.9" height="4.4" rx="0.8" fill="#ffffff"/><rect x="657.3" y="565.1" width="12.2" height="4.4" rx="0.8" fill="#ffffff"/><rect x="674.0" y="565.1" width="3.3" height="4.4" rx="0.8" fill="#5a9af5"/>
<rect x="544.4" y="574.9" width="3.6" height="4.4" rx="0.8" fill="#ffffff"/><rect x="552.7" y="574.9" width="13.3" height="4.4" rx="0.8" fill="#ffffff"/><rect x="569.6" y="574.9" width="5.3" height="4.4" rx="0.8" fill="#3f8af5"/>
<rect x="552.7" y="584.5" width="4.7" height="4.4" rx="0.8" fill="#ffffff"/><rect x="562.2" y="584.5" width="17.8" height="4.4" rx="0.8" fill="#f5a03a"/><rect x="585.1" y="584.5" width="13.8" height="4.4" rx="0.8" fill="#ffffff"/><rect x="602.7" y="584.5" width="4.7" height="4.4" rx="0.8" fill="#f5d24a"/>
<rect x="559.6" y="594.2" width="4.2" height="4.4" rx="0.8" fill="#ffffff"/><rect x="568.2" y="594.2" width="13.3" height="4.4" rx="0.8" fill="#ffffff"/>
<rect x="559.6" y="603.4" width="4.2" height="4.4" rx="0.8" fill="#ffffff"/><rect x="568.2" y="603.4" width="12.9" height="4.4" rx="0.8" fill="#ffffff"/><rect x="585.1" y="603.4" width="13.3" height="4.4" rx="0.8" fill="#f0c85a"/><rect x="602.9" y="603.4" width="28.9" height="4.4" rx="0.8" fill="#f58a3a"/>
<rect x="559.6" y="612.9" width="4.2" height="4.4" rx="0.8" fill="#ffffff"/><rect x="568.2" y="612.9" width="12.9" height="4.4" rx="0.8" fill="#ffffff"/><rect x="585.1" y="612.9" width="31.6" height="4.4" rx="0.8" fill="#3fc0f5"/><rect x="621.8" y="612.9" width="4.9" height="4.4" rx="0.8" fill="#f5d24a"/><rect x="629.6" y="612.9" width="21.6" height="4.4" rx="0.8" fill="#ffffff"/>
<rect x="568.4" y="622.5" width="13.1" height="4.4" rx="0.8" fill="#f5eaa0"/><rect x="585.6" y="622.5" width="18.2" height="4.4" rx="0.8" fill="#ffffff"/>
<rect x="557.8" y="632.2" width="7.3" height="4.4" rx="0.8" fill="#f5a03a"/>
</g>
<!-- robot on arrow 1 -->
<g id="robot">
<!-- white bag -->
<path d="M921 404 Q934 403 934.5 414 Q934.5 423 926 423 L921 422 Z" fill="#eef1f8"/>
<!-- ear -->
<circle cx="866" cy="359" r="6" fill="#f6cbb2"/>
<!-- helmet -->
<path d="M870 352 Q870 323 910 323 Q950 323 950 352 L950 362 Q950 381 930 381 L890 381 Q870 381 870 362 Z" fill="#e9eef9"/>
<path d="M883 331.5 Q895 321.5 910 322 Q926 321.5 937 331.5 Q924 329 910 329 Q896 329 883 331.5 Z" fill="#f0776a"/>
<rect x="879" y="342" width="62" height="37" rx="15" fill="url(#gVisor)"/>
<circle cx="926.7" cy="363.3" r="2.5" fill="#f0609a"/>
<circle cx="893" cy="364" r="1.3" fill="#b08af0"/>
<path d="M901 373 L919 373" stroke="#8a5ae0" stroke-width="1.6" stroke-linecap="round"/>
<path d="M888 352 l3 -3 M889 356 l1 0" stroke="#7f8af0" stroke-width="1.2" stroke-linecap="round"/>
<!-- right arm -->
<path d="M918 385 Q926 383 934 387 L944 390.5 L943 397.5 L930 395.5 L920 395 Z" fill="#8dbdf3"/>
<path d="M942 389 L953 390.5 L952.5 397.5 L941.5 396.5 Z" fill="#4a8ae8"/>
<path d="M952.5 388.5 Q962 384 971.5 387 Q972.5 389.5 968 391 Q972 393 968.5 396 L953 397 Z" fill="#f8cdb5"/>
<!-- green pack + yellow vest -->
<path d="M883.5 389 L894 381 L898 386 L897 398 L886 399 Z" fill="#5aa080"/>
<path d="M884 397 L895 392 L895 408 L884 411 Z" fill="#f5cf5a"/>
<path d="M915.5 388 L922 387 L926 398 L925.5 408 L915.5 408 Z" fill="#f5cf5a"/>
<!-- torso -->
<path d="M894.4 388 Q894.4 383.5 899 383.5 L916 383.5 Q921 383.5 921 388 L921 408 L894.4 408 Z" fill="#86b4f2"/>
<path d="M903.5 391 L907.5 397.5 L912 391" stroke="#3f6fe0" stroke-width="1.8" fill="none" stroke-linecap="round" stroke-linejoin="round"/>
<!-- waist -->
<path d="M894.4 406.7 L921 406.7 L921 412 Q907.7 419 894.4 412 Z" fill="#2a3fc8"/>
<!-- left arm -->
<path d="M883 406.5 L893 408.5 L891.5 414 L882 412.5 Z" fill="#4a8ae8"/>
<path d="M881.5 411.5 L889 413.5 Q888 424 881 428 Q873 428 874.5 421 Z" fill="#f8cdb5"/>
<!-- legs -->
<path d="M894.4 411 L921.5 411 L922.5 444.5 L908.5 444.5 L907.5 420 L903.5 444.5 L889.5 444.5 Z" fill="url(#gLeg)"/>
<rect x="889" y="443" width="14.5" height="4.2" rx="2" fill="#6a4fd0"/>
<rect x="908" y="443" width="14.5" height="4.2" rx="2" fill="#6a4fd0"/>
<rect x="891" y="447" width="10" height="12.5" fill="#2a2fb8"/>
<rect x="912.5" y="447" width="9.5" height="12.5" fill="#2a2fb8"/>
<path d="M890 458.5 L901.5 458.5 Q902 467.5 895 468 L888 468 Q884 467 886 463 Z" fill="#3f7ff1"/>
<path d="M912 458 L922 458 L932 462 Q934 465.5 929 465.5 L914 466 Q911 465 912 458 Z" fill="#3f7ff1"/>
</g>
<!-- right side -->
<g id="linechart" fill="none" stroke-linecap="round" stroke-linejoin="round">
<path d="M939.4 257.5 L939.4 317" stroke="#5f8aec" stroke-width="1.7"/>
<path d="M943.8 262.8 L1061 262.8" stroke="#a9c0f5" stroke-width="1.3"/>
<path d="M940 280.6 L1064 280.6" stroke="#cfdaf9" stroke-width="1.1"/>
<path d="M940 298.8 L970 298.8" stroke="#e3e9fb" stroke-width="1"/>
<path d="M963.75 285 L979.4 286.5" stroke="#b9c9f5" stroke-width="1.1"/>
<path d="M1015.6 281.9 L1031.9 286.5" stroke="#b9c0f0" stroke-width="1.1"/>
<path d="M998.75 300.6 L1011.9 309" stroke="#b9c0f0" stroke-width="1.1"/>
<path d="M945.6 306.9 L963.75 285" stroke="#4f80ee" stroke-width="1.6"/>
<path d="M953.1 315 L979.4 285 L998.75 300.6 L1015.6 281.9" stroke="#2f6af0" stroke-width="2.3"/>
<path d="M1011.9 310 L1031.9 285.6 L1053.1 296.9 L1083.75 272.5" stroke="#2f6af0" stroke-width="2.5"/>
<path d="M1051.9 283.75 L1070 251.9" stroke="#3a70f0" stroke-width="2.2"/>
<g stroke="none">
<path d="M945.6 304.5 L947.6 306.9 L945.6 309.3 L943.6 306.9 Z" fill="#7fa3f2"/>
<circle cx="963.75" cy="285" r="3" fill="#6f9af1"/>
<circle cx="953.1" cy="315" r="2.7" fill="#3a72f0"/>
<circle cx="979.4" cy="285" r="3.6" fill="#5585ee"/>
<circle cx="998.75" cy="300.6" r="2.6" fill="#3f72ee"/>
<circle cx="1015.6" cy="281.9" r="2.8" fill="#5a88ee"/>
<path d="M1011.9 306 L1015 310 L1011.9 314 L1008.8 310 Z" fill="#a9c3f6"/>
<circle cx="1031.9" cy="285.6" r="3.4" fill="#5a88ee"/>
<circle cx="1053.1" cy="296.9" r="3" fill="#2f6af0"/>
<circle cx="1083.75" cy="272.5" r="3.6" fill="#3f76ef"/>
<circle cx="1051.9" cy="283.75" r="2.4" fill="#3068ee"/>
<circle cx="1070" cy="251.9" r="3.4" fill="#3f76ef"/>
</g>
</g>
<g id="cloud1" fill="url(#gCloudU)">
<circle cx="1168.8" cy="312.8" r="39.2"/>
<circle cx="1112" cy="338.5" r="26"/>
<circle cx="1213.5" cy="335.5" r="27"/>
<circle cx="1140" cy="338" r="24"/>
<path d="M1112 330 L1213.5 330 L1213.5 362.5 Q1190 366 1170 364.5 L1112 364.5 Z"/>
<path d="M1126 350 A14 14 0 0 1 1126.5 320.5 A18 18 0 0 1 1161 314 Q1170 330 1165 350 Z" fill="#8db0f2" opacity="0.85"/>
</g>
<g id="char2">
<path d="M1153 330 Q1150 312 1160 303 Q1166 298 1168 290 Q1180 296 1183 306 Q1190 301 1193 306 Q1199 316 1197.5 332 Q1190 344 1175 344 Q1158 344 1153 330 Z" fill="#f4b25a"/>
<path d="M1158 338 Q1175 350 1192 338 Q1188 346 1175 347 Q1162 346 1158 338 Z" fill="#f6cfae"/>
<rect x="1155" y="316.8" width="38.5" height="18.6" rx="8.5" fill="#2a3fd2"/>
<rect x="1160" y="320" width="28" height="12" rx="5" fill="#3a55e6"/>
<g fill="#ffffff"><circle cx="1162.5" cy="322.5" r="1.3"/><circle cx="1186" cy="322.5" r="1.3"/><circle cx="1162.5" cy="330" r="1.3"/><circle cx="1186" cy="330" r="1.3"/></g>
<path d="M1165 348 Q1175 342 1185 348 L1191 358 L1189 366 L1183 364 L1182 368 L1168 368 L1167 363 L1161 366 L1158.5 358 Z" fill="#3f6fe2"/>
<path d="M1168 352 L1182 352 L1181 366 L1169 366 Z" fill="#5aa2f0"/>
<circle cx="1175" cy="351" r="2.2" fill="#f6cfae"/>
<path d="M1172 353 L1175 360 L1178 353 Z" fill="#2a3fc0"/>
<path d="M1166.5 366 L1184 366 L1185 384 L1178 384 L1175.5 372 L1173 384 L1165.5 384 Z" fill="#2a3fc2"/>
<path d="M1163.5 383 L1173 383 L1173 388.5 L1163 388.5 Q1161 386 1163.5 383 Z" fill="#2a2fb0"/>
<path d="M1178 383 L1186 383 Q1189 386 1187 388.5 L1178 388.5 Z" fill="#2a2fb0"/>
<circle cx="1192" cy="368.6" r="3.4" fill="#f0607a"/>
</g>
<g id="ghost2">
<path d="M1123.7 442.2 Q1127 430 1129.6 422.5 Q1150 410 1174 407.7 L1174 422.5 Q1146 428 1123.7 442.2 Z" fill="#cddaf8" opacity="0.85"/>
<path d="M1129.6 422.5 Q1150 410 1174 407.7 L1174 413 Q1150 416 1128 428 Z" fill="#e3ebfc" opacity="0.9"/>
<path d="M1175 407.7 L1199 409.5 L1206 408 L1213.6 419.5 L1199 430.4 L1197.5 424.5 L1175 422.5 Z" fill="#d9e5fb"/>
<path d="M1180 415.6 Q1190 416 1198.8 417.5 L1197 423" stroke="#5f88ec" stroke-width="1.5" stroke-linecap="round" stroke-linejoin="round" fill="none"/>
</g>
<g id="curves" fill="none" stroke="#6f8fea" stroke-width="1.6" stroke-linecap="round">
<path d="M1251.5 402 Q1252 424 1235 438 Q1222 449 1207 455.6"/>
<path d="M1240 411 Q1236 428 1214 440 Q1190 450 1181 470 Q1177.6 480 1177.6 521" stroke="#5f86ea"/>
<circle cx="1207" cy="455.6" r="3" fill="#4f74e6" stroke="none"/>
</g>
<g id="plus">
<circle cx="1180.7" cy="530.7" r="9.5" fill="#2f6fe8"/>
<path d="M1175 530.7 L1186.4 530.7 M1180.7 525 L1180.7 536.4" stroke="#ffffff" stroke-width="3" stroke-linecap="round"/>
</g>
<g id="tree" fill="none" stroke="#5663da" stroke-width="1.6" stroke-linecap="round">
<path d="M1320 375 L1341 358.6" stroke="#5a6fe0"/>
<path d="M1285.7 404.8 L1261 440.6"/>
<path d="M1272 427 Q1285 436 1289 454"/>
<path d="M1298 411 L1301.7 438 L1319.4 460.7 L1339 484"/>
<path d="M1308 407 L1322.7 417"/>
<path d="M1354.8 441.9 L1319.4 460.7 L1305 485"/>
<path d="M1296 506 L1281.9 529.4"/>
<path d="M1346.7 506.9 L1361 534.6"/>
<rect x="1251" y="440.6" width="18.6" height="17.6" rx="5.5" fill="#4f63da" stroke="none"/>
<rect x="1279.5" y="454" width="21" height="17.6" rx="5.5" fill="#4f63da" stroke="none"/>
</g>
<g id="pills">
<rect x="1291" y="484" width="31.8" height="24" rx="12" fill="#2f6be8"/>
<path d="M1296 490 Q1300 486 1307 486.5" stroke="#6f9af2" stroke-width="2" fill="none" stroke-linecap="round"/>
<circle cx="1298.7" cy="499.6" r="2" fill="#f08ab0"/>
<circle cx="1314.6" cy="495.5" r="1.4" fill="#1a2fa0"/>
<rect x="1326" y="484" width="27" height="23.4" rx="11.5" fill="#2f6be8"/>
<path d="M1332 495 L1340 495 M1346 495 l1.5 0" stroke="#244fc8" stroke-width="1.4" fill="none" stroke-linecap="round"/>
</g>
<g id="aihex">
<path d="M1298 362.8 L1320 375 L1320 397.4 L1298 411 L1274.6 397.4 L1277 374 Z" fill="#4a5fd8"/>
<path d="M1298 362.8 L1320 375 L1298 384 L1277 374 Z" fill="#6f84e6" opacity="0.8"/>
<circle cx="1297" cy="369" r="5.4" fill="#f8a0a0" opacity="0.6"/>
<circle cx="1297" cy="369" r="3.2" fill="#f0604a"/>
<text x="1284.6" y="401.3" font-size="23.5" font-weight="700" fill="#ffffff" textLength="22.5" lengthAdjust="spacingAndGlyphs">AI</text>
<rect x="1310.6" y="384" width="2.2" height="6" fill="#ffffff"/>
</g>
<g id="aicloud">
<g fill="url(#gCloudAI)"><circle cx="1364" cy="410.6" r="30"/><circle cx="1396" cy="422.5" r="21"/><circle cx="1337.4" cy="426.3" r="15.4"/><rect x="1337.4" y="420" width="58.6" height="21.7"/></g>
<text x="1351.6" y="429.6" font-size="31" font-weight="700" fill="#ffffff" textLength="30.5" lengthAdjust="spacingAndGlyphs">AI</text>
</g>
<g id="smallcloud">
<g fill="url(#gCloudSU)"><circle cx="1380.8" cy="342.5" r="18.6"/><circle cx="1329.3" cy="347" r="11.5"/><circle cx="1348" cy="344" r="14.5"/><rect x="1329.3" y="341" width="51.5" height="17.5"/></g>
<rect x="1367" y="314.7" width="11" height="19.7" rx="2" fill="#7fc2f8"/>
<rect x="1362" y="312.5" width="9" height="21" rx="2" fill="#5aa5f5"/>
<path d="M1342 310 L1364 310 Q1367.6 310 1367.6 313.5 L1367.6 335 L1337.5 335 L1337.5 322 Q1338 312 1342 310 Z" fill="#3f86f1"/>
<path d="M1337.5 327 L1367.6 327 L1367.6 335 L1337.5 335 Z" fill="#2f6fe6"/>
<path d="M1340 316 L1366 316" stroke="#6fa8f6" stroke-width="1.4"/>
<circle cx="1356" cy="343" r="10" fill="#eef3fd"/>
<circle cx="1356" cy="343" r="8" fill="#3f7ff1"/>
<path d="M1356 338.5 L1356 343.5 L1359.5 345" stroke="#ffffff" stroke-width="1.6" fill="none" stroke-linecap="round" stroke-linejoin="round"/>
</g>
<g id="planet">
<circle cx="1376" cy="554.8" r="24" fill="#e9effc"/>
<path d="M1352.2 552 A24 24 0 0 1 1397 543.5 Q1388 536.5 1374 539.5 Q1360 543 1352.2 552 Z" fill="#2f6be8"/>
<path d="M1352 556 Q1354 545 1366 540 Q1380 536 1392 541 Q1372 541.5 1360 552 Q1356 556 1355 562 Z" fill="#2f6be8"/>
<path d="M1358 551 Q1372 541.5 1392 545 Q1397 548 1399.5 552 Q1386 547 1372 549.5 Q1362 552 1356.5 557 Z" fill="#8fb4f3"/>
<path d="M1362 556 Q1380 550 1400 556.5 L1400 560 Q1384 555 1364 560 Z" fill="#b9cff7"/>
<path d="M1356 568 Q1372 577 1392 569 Q1396 565 1398 562 Q1384 570 1370 569 Q1360 568 1354 563 Z" fill="#3f74ea"/>
<path d="M1360 573.5 Q1374 581.5 1388 575.5 Q1376 578 1360 573.5 Z" fill="#2f6be8"/>
<path d="M1350.5 558.5 Q1372 566.5 1394 563.5" stroke="#5f7fe0" stroke-width="4.2" fill="none" stroke-linecap="round"/>
<path d="M1358 561.5 Q1370 564.6 1382 564.2" stroke="#7fd0e8" stroke-width="1.4" fill="none" stroke-linecap="round"/>
<circle cx="1354.5" cy="559.5" r="2.4" fill="#f07aa0"/>
<circle cx="1388.5" cy="563.8" r="3" fill="#b05ad8"/>
<path d="M1391 564.8 L1399 567" stroke="#6f8fe8" stroke-width="1.4"/>
<circle cx="1401" cy="567.8" r="2.6" fill="#cfe0fa" stroke="#7fa6f0" stroke-width="1"/>
</g>
<g id="cloud3" fill="url(#gCloud3U)">
<circle cx="1247.8" cy="546.8" r="37"/>
<circle cx="1208.5" cy="564.5" r="19.5"/>
<circle cx="1287" cy="561" r="23.5"/>
<rect x="1208.5" y="556" width="78.5" height="28" />
<path d="M1224 568 Q1216 567 1217 559 Q1219 551 1228 552 Q1231 541 1243 541 Q1249 541 1253 545 Q1259 537 1269 538 Q1281 540 1284 552 Q1289 556 1288 563 Q1287 568 1282 568 Z" fill="#a3bef6" opacity="0.85"/>
</g>
<g id="cloudlines" fill="none" stroke="#6f94ee" stroke-width="2" stroke-linecap="round">
<path d="M1250.7 584 L1250.7 592 Q1250 606 1222 610.8"/>
<path d="M1250.7 592 Q1252 604 1275 606.5 Q1297 609 1301 622 L1303.5 638"/>
<path d="M1024 611 L1419 611 Q1432 613 1440 624"/>
<path d="M1024 611 Q1000 611 984 625 Q966 642 950 672 Q936 696 916 704.5 Q908 708 893.5 711.5" stroke="#88a8f0" stroke-width="1.4"/>
</g>
<!-- platform -->
<g id="platform">
<path d="M941 762 Q941 777 958 777 L1440 777 L1440 690 L1004 690 Q986 720 960 745 Q950 752 941 762 Z" fill="#fbfcfe"/>
<path d="M1008.7 698 L1410 698 Q1428 699 1440 722 L1440 771 L968 771 Q956 771 958.5 760 Q962 750 972 742 Q992 722 1008.7 698 Z" fill="url(#gPlat)"/>
<g opacity="0.3" filter="url(#b1)"><rect x="1339" y="601" width="54" height="22" rx="3" fill="#e3ecfb"/><path d="M1366 611 L1366 625 M1346 628 L1388 628" stroke="#b9cdf5" stroke-width="1.4" fill="none"/></g>
<path d="M1005 656 A10.5 10.5 0 0 1 1005.5 635 A15 15 0 0 1 1030 624.5 A14 14 0 0 1 1054.5 633.5 A11.5 11.5 0 0 1 1057 656 Z" fill="#b3c8f5" opacity="0.9"/>
<path d="M1023 645 Q1029.5 638 1036 645 Q1029.5 642.5 1023 645 Z M1026 646 A3.5 2.2 0 0 0 1033 646 Z" fill="#eef3fc"/>
<ellipse cx="1102" cy="739" rx="100" ry="23" fill="#b9cbf6"/>
<ellipse cx="1102" cy="737" rx="100" ry="23" fill="#6f93ea"/>
<rect x="1002" y="724.5" width="200" height="12.5" fill="#7a9cec"/>
<ellipse cx="1102" cy="724.5" rx="100" ry="25.5" fill="#8dadf0"/>
<ellipse cx="1102" cy="722.5" rx="88" ry="20.5" fill="#a3bdf3"/>
<ellipse cx="1102" cy="721.5" rx="72" ry="15.5" fill="#b1c8f5"/>
<ellipse cx="1066" cy="735.5" rx="4.5" ry="1.8" fill="#8dadf0"/><ellipse cx="1128" cy="735" rx="4.5" ry="1.8" fill="#8dadf0"/>
<rect x="1011.0" y="739.0" width="2.0" height="4" rx="1.5" fill="#f07ab0"/><rect x="1025.0" y="745.0" width="2.4" height="4" rx="1.5" fill="#7fe0e8"/><rect x="1029.5" y="746.0" width="2.4" height="4" rx="1.5" fill="#f5e08a"/><rect x="1034.0" y="747.0" width="2.4" height="4" rx="1.5" fill="#7fe0e8"/><rect x="1040.0" y="748.0" width="3.0" height="4" rx="1.5" fill="#f5b07a"/><rect x="1048.0" y="749.5" width="4.0" height="4" rx="1.5" fill="#b06ae0"/><rect x="1062.0" y="751.0" width="9.0" height="4" rx="1.5" fill="#e05ac8"/><rect x="1104.0" y="753.0" width="2.4" height="4" rx="1.5" fill="#d8e4fa"/><rect x="1109.0" y="753.0" width="2.4" height="4" rx="1.5" fill="#7fe0e8"/><rect x="1114.0" y="753.0" width="2.4" height="4" rx="1.5" fill="#d8e4fa"/><rect x="1130.0" y="751.5" width="11.0" height="4" rx="1.5" fill="#e05ac8"/><rect x="1147.0" y="750.0" width="2.4" height="4" rx="1.5" fill="#7fe0e8"/><rect x="1152.0" y="749.5" width="2.4" height="4" rx="1.5" fill="#f5e08a"/><rect x="1157.0" y="749.0" width="2.4" height="4" rx="1.5" fill="#7fe0e8"/><rect x="1163.0" y="748.0" width="2.4" height="4" rx="1.5" fill="#f5b07a"/><rect x="1193.0" y="739.0" width="2.0" height="4" rx="1.5" fill="#f07ab0"/>
<path d="M1083.7 669.9 L1083.7 685.0 A22.5 9.0 0 0 0 1128.7 685.0 L1128.7 669.9 Z" fill="#c3dbf9"/><path d="M1083.7 669.9 L1083.7 681.6 A22.5 9.0 0 0 0 1128.7 681.6 L1128.7 669.9 Z" fill="url(#gCylL)"/><path d="M1084.3 681.0 A21.9 9.0 0 0 0 1128.1 681.0" fill="none" stroke="#3f62de" stroke-width="1.8" opacity="0.75"/><ellipse cx="1106.2" cy="669.9" rx="22.5" ry="9.0" fill="#a5caf6"/><path d="M1083.7 654.7 L1083.7 669.9 A22.5 9.0 0 0 0 1128.7 669.9 L1128.7 654.7 Z" fill="#c3dbf9"/><path d="M1083.7 654.7 L1083.7 666.5 A22.5 9.0 0 0 0 1128.7 666.5 L1128.7 654.7 Z" fill="url(#gCyl)"/><path d="M1084.3 665.9 A21.9 9.0 0 0 0 1128.1 665.9" fill="none" stroke="#3f62de" stroke-width="1.8" opacity="0.75"/><ellipse cx="1106.2" cy="654.7" rx="22.5" ry="9.0" fill="#a5caf6"/><path d="M1083.7 639.6 L1083.7 654.7 A22.5 9.0 0 0 0 1128.7 654.7 L1128.7 639.6 Z" fill="#c3dbf9"/><path d="M1083.7 639.6 L1083.7 651.3 A22.5 9.0 0 0 0 1128.7 651.3 L1128.7 639.6 Z" fill="url(#gCyl)"/><path d="M1084.3 650.7 A21.9 9.0 0 0 0 1128.1 650.7" fill="none" stroke="#3f62de" stroke-width="1.8" opacity="0.75"/><ellipse cx="1106.2" cy="639.6" rx="22.5" ry="9.0" fill="#b7d5f8"/><ellipse cx="1109.2" cy="638.8" rx="15.7" ry="5.4" fill="#cfe3fb" opacity="0.6"/>
<path d="M1035.0 701.8 L1035.0 716.9 A22.9 9.1 0 0 0 1080.7 716.9 L1080.7 701.8 Z" fill="#c3dbf9"/><path d="M1035.0 701.8 L1035.0 713.5 A22.9 9.1 0 0 0 1080.7 713.5 L1080.7 701.8 Z" fill="url(#gCylL)"/><path d="M1035.6 712.9 A22.3 9.1 0 0 0 1080.1 712.9" fill="none" stroke="#3f62de" stroke-width="1.8" opacity="0.75"/><ellipse cx="1057.8" cy="701.8" rx="22.9" ry="9.1" fill="#a5caf6"/><path d="M1035.0 686.7 L1035.0 701.8 A22.9 9.1 0 0 0 1080.7 701.8 L1080.7 686.7 Z" fill="#c3dbf9"/><path d="M1035.0 686.7 L1035.0 698.4 A22.9 9.1 0 0 0 1080.7 698.4 L1080.7 686.7 Z" fill="url(#gCyl)"/><path d="M1035.6 697.8 A22.3 9.1 0 0 0 1080.1 697.8" fill="none" stroke="#3f62de" stroke-width="1.8" opacity="0.75"/><ellipse cx="1057.8" cy="686.7" rx="22.9" ry="9.1" fill="#a5caf6"/><path d="M1035.0 671.6 L1035.0 686.7 A22.9 9.1 0 0 0 1080.7 686.7 L1080.7 671.6 Z" fill="#c3dbf9"/><path d="M1035.0 671.6 L1035.0 683.3 A22.9 9.1 0 0 0 1080.7 683.3 L1080.7 671.6 Z" fill="url(#gCyl)"/><path d="M1035.6 682.7 A22.3 9.1 0 0 0 1080.1 682.7" fill="none" stroke="#3f62de" stroke-width="1.8" opacity="0.75"/><ellipse cx="1057.8" cy="671.6" rx="22.9" ry="9.1" fill="#b7d5f8"/><ellipse cx="1060.8" cy="670.8" rx="16.0" ry="5.5" fill="#cfe3fb" opacity="0.6"/>
<path d="M1125.0 701.8 L1125.0 717.0 A22.5 9.0 0 0 0 1170.0 717.0 L1170.0 701.8 Z" fill="#c3dbf9"/><path d="M1125.0 701.8 L1125.0 713.6 A22.5 9.0 0 0 0 1170.0 713.6 L1170.0 701.8 Z" fill="url(#gCylL)"/><path d="M1125.6 713.0 A21.9 9.0 0 0 0 1169.4 713.0" fill="none" stroke="#3f62de" stroke-width="1.8" opacity="0.75"/><ellipse cx="1147.5" cy="701.8" rx="22.5" ry="9.0" fill="#a5caf6"/><path d="M1125.0 686.7 L1125.0 701.8 A22.5 9.0 0 0 0 1170.0 701.8 L1170.0 686.7 Z" fill="#c3dbf9"/><path d="M1125.0 686.7 L1125.0 698.4 A22.5 9.0 0 0 0 1170.0 698.4 L1170.0 686.7 Z" fill="url(#gCyl)"/><path d="M1125.6 697.8 A21.9 9.0 0 0 0 1169.4 697.8" fill="none" stroke="#3f62de" stroke-width="1.8" opacity="0.75"/><ellipse cx="1147.5" cy="686.7" rx="22.5" ry="9.0" fill="#a5caf6"/><path d="M1125.0 671.5 L1125.0 686.7 A22.5 9.0 0 0 0 1170.0 686.7 L1170.0 671.5 Z" fill="#c3dbf9"/><path d="M1125.0 671.5 L1125.0 683.3 A22.5 9.0 0 0 0 1170.0 683.3 L1170.0 671.5 Z" fill="url(#gCyl)"/><path d="M1125.6 682.7 A21.9 9.0 0 0 0 1169.4 682.7" fill="none" stroke="#3f62de" stroke-width="1.8" opacity="0.75"/><ellipse cx="1147.5" cy="671.5" rx="22.5" ry="9.0" fill="#b7d5f8"/><ellipse cx="1150.5" cy="670.7" rx="15.7" ry="5.4" fill="#cfe3fb" opacity="0.6"/>
<path d="M1076.0 710.8 L1076.0 722.3 A23.0 9.2 0 0 0 1122.0 722.3 L1122.0 710.8 Z" fill="#c3dbf9"/><path d="M1076.0 710.8 L1076.0 718.9 A23.0 9.2 0 0 0 1122.0 718.9 L1122.0 710.8 Z" fill="url(#gCyl)"/><path d="M1076.6 718.3 A22.4 9.2 0 0 0 1121.4 718.3" fill="none" stroke="#3f62de" stroke-width="1.8" opacity="0.75"/><ellipse cx="1099.0" cy="710.8" rx="23.0" ry="9.2" fill="#a5caf6"/><path d="M1076.0 699.2 L1076.0 710.8 A23.0 9.2 0 0 0 1122.0 710.8 L1122.0 699.2 Z" fill="#c3dbf9"/><path d="M1076.0 699.2 L1076.0 707.4 A23.0 9.2 0 0 0 1122.0 707.4 L1122.0 699.2 Z" fill="url(#gCyl)"/><path d="M1076.6 706.8 A22.4 9.2 0 0 0 1121.4 706.8" fill="none" stroke="#3f62de" stroke-width="1.8" opacity="0.75"/><ellipse cx="1099.0" cy="699.2" rx="23.0" ry="9.2" fill="#b7d5f8"/><ellipse cx="1102.0" cy="698.4" rx="16.1" ry="5.5" fill="#cfe3fb" opacity="0.6"/>
<g id="person">
<ellipse cx="1241" cy="736" rx="20" ry="5.5" fill="#a9bff2" opacity="0.8"/>
<path d="M1228.5 688 L1224 701 L1221 705 L1223.5 706 L1227 701.5 L1231 691 Z" fill="#f6cfb2"/>
<path d="M1248 680.5 L1261 681 L1265 680 L1265.5 683.5 L1261 685 L1248.5 686 Z" fill="#f6cfb2"/>
<path d="M1229 681.5 Q1236 677.5 1244 679.5 L1250 680.5 L1251 687 L1248.5 688 L1247.5 704 L1230 704 L1229.5 691 L1226.5 690.5 Z" fill="#4a5fe2"/>
<path d="M1265 682 L1275 667 Q1280 660 1286 655" stroke="#3a4fc8" stroke-width="1.3" fill="none"/>
<circle cx="1275.3" cy="667" r="1.8" fill="#3a4fc8"/>
<circle cx="1237" cy="671.5" r="6.2" fill="#f6cfb2"/>
<path d="M1230.6 670.5 Q1231 663.5 1238 664 Q1244 664.5 1243.5 670 Q1238 667 1230.6 670.5 Z" fill="#2f6fe6"/>
<path d="M1234.5 672.5 l6 0" stroke="#5ad0c0" stroke-width="2" stroke-linecap="round"/>
<path d="M1230 703 L1247.5 703 L1250.5 722 L1251.5 734 L1246 734 L1240 712 L1238 722 L1235.5 734.5 L1230.5 734.5 L1231.5 718 Z" fill="#5b9be8"/>
<path d="M1229 733.5 L1236 733.5 L1236.5 737.5 L1227.5 737.5 Q1227 735 1229 733.5 Z" fill="#2a3fb0"/>
<path d="M1246 733 L1252.5 733 Q1258 735.5 1258 737.5 L1246.5 737.5 Z" fill="#2a3fb0"/>
</g>
<g id="device">
<rect x="1281.5" y="637.5" width="42" height="14" rx="7" fill="#d3e1fb"/>
<rect x="1283.5" y="639.5" width="38" height="10" rx="5" fill="#2f5fe0"/>
<circle cx="1292" cy="644.5" r="1.4" fill="#b07af0"/><circle cx="1302" cy="645.5" r="1.4" fill="#7fe0f0"/><circle cx="1308" cy="645.5" r="1.4" fill="#f5f5ff"/><circle cx="1315" cy="644.5" r="1.4" fill="#7fe0f0"/>
<g fill="none" stroke="#5f7fe4" stroke-width="1.3">
<path d="M1295 651.5 Q1290 660 1290.7 671"/><path d="M1299 651.5 L1308.7 670"/><path d="M1306 651.5 L1295 664"/><path d="M1310 651.5 Q1322 658 1323.7 671"/>
<path d="M1291.5 681 L1292.5 694"/><path d="M1308.7 680 L1308.7 696"/>
</g>
<circle cx="1290.7" cy="676.7" r="5" fill="#3f7ae8"/><circle cx="1308.7" cy="675.6" r="4.6" fill="#4a90ee"/><circle cx="1323.7" cy="676" r="4.6" fill="#5aa0f0"/>
<rect x="1289.2" y="680" width="3.4" height="14" fill="#3f7ae8"/>
<rect x="1307" y="679" width="3.4" height="16" fill="#4a90ee"/>
<circle cx="1293" cy="702.5" r="8" fill="#f0907a"/>
<path d="M1305 697 L1312.5 697 L1311.5 703.5 L1306 703.5 Z" fill="#f5a86a"/>
</g>
<g id="bars">
<rect x="1318" y="683" width="13.5" height="20.5" rx="1.5" fill="#a9bef1" opacity="0.9"/>
<rect x="1275" y="715" width="41" height="37" rx="2" fill="#a3b9f0" opacity="0.85"/>
<rect x="1293.7" y="720.6" width="22.5" height="32" rx="2" fill="#86a3ec"/>
<rect x="1265.6" y="750.6" width="155.6" height="9.6" rx="4.8" fill="#fdfdff"/>
<path d="M1278 755 L1278 740.5 Q1278 736.7 1282 736.7 L1293.5 736.7 Q1297.5 736.7 1297.5 740.5 L1297.5 755 Z" fill="#3a6be6"/>
<path d="M1326.7 755 L1326.7 709.6 Q1326.7 705.6 1330.7 705.6 L1344 705.6 Q1348 705.6 1348 709.6 L1348 755 Z" fill="#658bea"/>
<path d="M1357.5 755 L1357.5 672 Q1357.5 668 1361.5 668 L1374 668 Q1378 668 1378 672 L1378 755 Z" fill="url(#gBar)"/>
<path d="M1387.5 755 L1387.5 677 Q1387.5 673 1391.5 673 L1404 673 Q1408 673 1408 677 L1408 755 Z" fill="url(#gBar)"/>
</g>
</g>
<!-- mongodb text area -->
<g id="mongo">
<path d="M640 754 Q652 748 663.5 745.8 Q690 741 712 741 Q750 741.5 784 744 Q812 744 838.6 736.8 Q860 730 877.5 718.5" fill="none" stroke="#9fb7f2" stroke-width="1.5"/>
<path d="M893.5 711.5 L900 709.7" fill="none" stroke="#9fb7f2" stroke-width="1.5"/>
<circle cx="885.6" cy="714.2" r="6.6" fill="#fbfcff" stroke="#c3d2f6" stroke-width="3.4"/>
<path d="M663.5 746 L663.5 714 M659 718.5 L663.5 713 L668 718.5" fill="none" stroke="#9fb7f2" stroke-width="1.3"/>
<path d="M670.7 691.7 L670.7 728.7" stroke="#4a72e8" stroke-width="1.8"/>
<text x="678" y="703.6" font-size="16.6" fill="#3f52c6" textLength="72.5" lengthAdjust="spacingAndGlyphs">MongoDB</text>
<path d="M709.5 711.5 Q716 716.5 723 714.5" fill="none" stroke="#2f5fe0" stroke-width="2.2" stroke-linecap="round"/>
<path d="M729.7 704 L729.7 730 M725.8 728.5 L729.7 734 L733.6 728.5 Z" fill="#3a63e4" stroke="#3a63e4" stroke-width="1.8" stroke-linejoin="round"/>
<text x="736.5" y="727.4" font-size="21.5" fill="#3f49c4" textLength="73.5" lengthAdjust="spacingAndGlyphs">.ogloaog</text>
<g fill="#4a72e8"><rect x="683" y="724" width="1.6" height="1.6"/><rect x="686.5" y="724" width="1.6" height="1.6"/><rect x="777" y="703" width="1.6" height="1.6"/><rect x="783" y="702.5" width="1.6" height="1.6"/>
<rect x="815" y="715" width="1.5" height="4"/><rect x="822.5" y="715" width="1.5" height="3"/><rect x="828.5" y="715" width="2.5" height="3"/><rect x="838.5" y="715" width="1.5" height="4"/><rect x="848.5" y="715" width="1.6" height="5"/><rect x="848.5" y="722" width="1.6" height="2.5"/></g>
</g>
</svg>
<div id="title">金仓数据库：游戏行业文档数据管理的先进型技术方案</div>
<div id="sub">多模融合 <b>·</b> 协议原生 <b>·</b> 企业级可控</div>
</body>
</html>
